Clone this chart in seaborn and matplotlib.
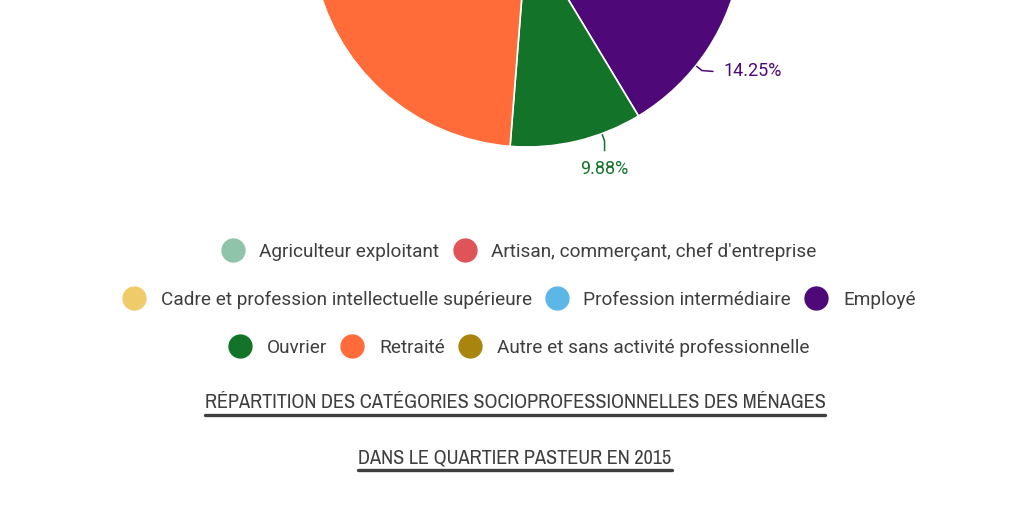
import seaborn as sns
import matplotlib.pyplot as plt
from matplotlib.lines import Line2D
from matplotlib import font_manager as fm
import numpy as np

# Data: household socio-professional categories, Pasteur quarter 2015
categories = ["Agriculteur exploitant", "Artisan, commerçant, chef d'entreprise",
              "Cadre et profession intellectuelle supérieure", "Profession intermédiaire",
              "Employé", "Ouvrier", "Retraité", "Autre et sans activité professionnelle"]
shares = [0.12, 3.60, 8.90, 14.50, 14.25, 9.88, 41.60, 7.15]
colors = ["#8fc4aa", "#df5458", "#efcb69", "#5db7e6", "#4f0877", "#137429", "#ff6b39", "#a98510"]
legend_rows = [[0, 1], [2, 3, 4], [5, 6, 7]]
title_lines = ["RÉPARTITION DES CATÉGORIES SOCIOPROFESSIONNELLES DES MÉNAGES",
               "DANS LE QUARTIER PASTEUR EN 2015"]

sns.set_theme(style="white")
plt.rcParams["font.family"] = ["Roboto", "DejaVu Sans"]
text_grey = "#3f3f3f"

W, H = 1024, 512
fig = plt.figure(figsize=(W / 100, H / 100), dpi=100)

# pie placed so that only its lower part is visible
cx, cy, R = 527, -69, 216
ax = fig.add_axes([(cx - R) / W, (H - cy - R) / H, 2 * R / W, 2 * R / H])
wedges, _ = ax.pie(shares, colors=sns.color_palette(colors), startangle=90, counterclock=False,
                   radius=1, wedgeprops=dict(edgecolor="white", linewidth=1.2))
ax.set_xlim(-1, 1)
ax.set_ylim(-1, 1)
ax.axis("off")

# small angular shifts used by the original label layout
label_shift = {"Employé": -5.3, "Ouvrier": 7.0}
for w, cat, v, c in zip(wedges, categories, shares, colors):
    ang = (w.theta1 + w.theta2) / 2 + label_shift.get(cat, 0)
    a = np.deg2rad(ang)
    ux, uy = np.cos(a), np.sin(a)
    p0 = (1.005 * ux, 1.005 * uy)
    p1 = (1.036 * ux, 1.036 * uy)
    if abs(uy) > 0.85:
        sgn = np.sign(uy)
        p2 = (p1[0], p1[1] + 0.045 * sgn)
        tx, ty, ha, va = p2[0], p2[1] + 0.085 * sgn, "center", "center"
    else:
        sgn = np.sign(ux)
        p2 = (p1[0] + 0.051 * sgn, p1[1] - 0.004)
        tx, ty, ha, va = p2[0] + 0.047 * sgn, p2[1], ("left" if sgn > 0 else "right"), "center"
    # labels of the slices above the visible area are skipped (off canvas)
    if cy + R * (1 - ty) - R < 8:
        continue
    ax.plot([p0[0], p1[0], p2[0]], [p0[1], p1[1], p2[1]], color=c, lw=1.1, clip_on=False)
    ax.text(tx, ty, f"{v:.2f}%", color=c, fontsize=13, ha=ha, va=va, clip_on=False)

# legend, three centred rows
for i, row in enumerate(legend_rows):
    handles = [Line2D([], [], marker="o", ls="", color=colors[k], markersize=16.5) for k in row]
    fig.legend(handles, [categories[k] for k in row], loc="center",
               bbox_to_anchor=(519 / W, 1 - (252 + 47.8 * i) / H), ncol=len(row), frameon=False,
               fontsize=13.7, labelcolor=text_grey, handlelength=1.2, handletextpad=0.8,
               columnspacing=0.72, borderpad=0, borderaxespad=0)

# title, condensed font fitted to the original width, underlined
cond = [f for f in fm.fontManager.ttflist
        if ("Narrow" in f.name or "Condensed" in f.name or "ondensed" in str(f.stretch))
        and f.weight in (400, "normal", "regular", "book") and f.style == "normal"]
if cond:
    tprop = fm.FontProperties(fname=sorted(cond, key=lambda f: f.name)[0].fname)
else:
    tprop = fm.FontProperties(family="DejaVu Sans")
renderer = fig.canvas.get_renderer()
probe = fig.text(0, 0, title_lines[0], fontproperties=tprop, fontsize=20)
size = 20 * 624 / probe.get_window_extent(renderer).width
probe.remove()
tprop.set_size(size)

for line, base, ul in zip(title_lines, [408, 463], [414.5, 469.5]):
    t = fig.text(515 / W, 1 - base / H, line, fontproperties=tprop, color=text_grey,
                 ha="center", va="baseline")
    bb = t.get_window_extent(renderer)
    fig.add_artist(Line2D([bb.x0 / W, bb.x1 / W], [1 - ul / H, 1 - ul / H],
                          color=text_grey, lw=2.4))

fig.savefig("out.png", dpi=100)
